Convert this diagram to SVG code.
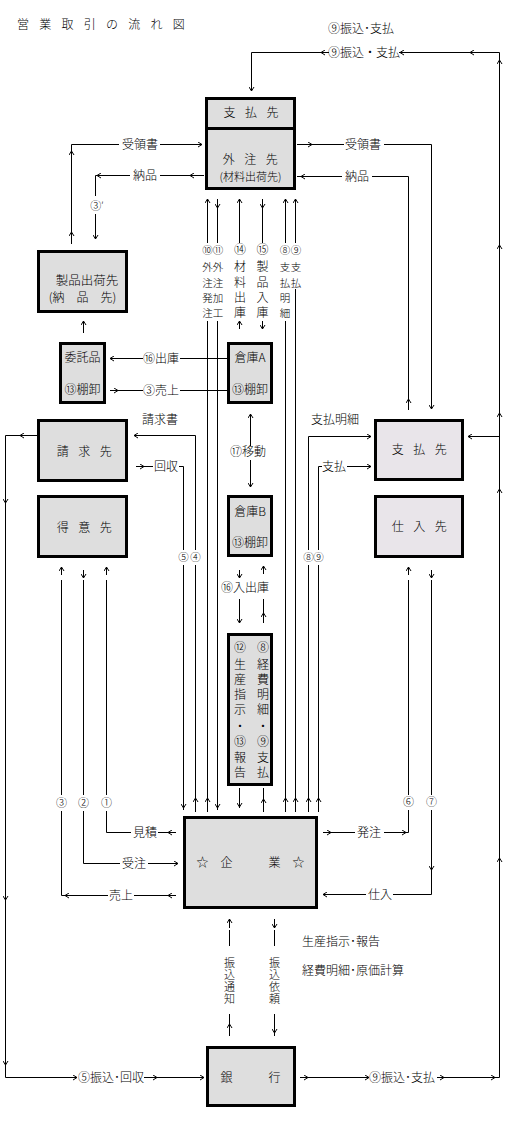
<svg xmlns="http://www.w3.org/2000/svg" width="520" height="1136" viewBox="0 0 520 1136">
<defs>
<marker id="ah" viewBox="0 0 4 6" refX="4" refY="3" markerWidth="4" markerHeight="6" markerUnits="userSpaceOnUse" orient="auto"><path d="M0,0.5 L4,3 L0,5.5" fill="none" stroke="#000" stroke-width="1"/></marker>
<style>
.bx{fill:#dedede;stroke:#000;stroke-width:3}
.bx2{fill:#e9e5ea;stroke:#000;stroke-width:3}
.c{fill:none;stroke:#000;stroke-width:1}
.a{fill:none;stroke:#000;stroke-width:1;marker-end:url(#ah)}
text{font-family:"Noto Sans CJK JP","Noto Sans CJK SC",sans-serif;font-size:12px;font-weight:300;fill:#000}
.m{text-anchor:middle}
.sp{letter-spacing:3.4px}
.s{font-size:10.5px}
.n{font-size:11px}
.v{writing-mode:vertical-rl;text-anchor:middle;font-size:11px;letter-spacing:1px}
</style>
</defs>
<rect x="0" y="0" width="520" height="1136" fill="#fff"/>
<text x="17" y="29" style="letter-spacing:3.8px">営 業 取 引 の 流 れ 図</text>
<text class="m" x="361" y="33">⑨振込･支払</text>

<g id="connectors">
<path class="c" d="M251.5 90 V52.5 H329"/>
<path class="c" d="M399 52.5 H499.5 V1077.5 H437"/>
<path class="c" d="M368 1077.5 H301"/>
<path class="c" d="M499.5 436.5 H469"/>
<path class="c" d="M37 435.5 H5.5 V1077.5 H76"/>
<path class="c" d="M144 1077.5 H204"/>
<path class="c" d="M71.5 244 V144.5 H119"/>
<path class="c" d="M160 144.5 H202"/>
<path class="c" d="M204 175.5 H160"/>
<path class="c" d="M130 175.5 H95.5 V196"/>
<path class="c" d="M95.5 214 V239"/>
<path class="c" d="M297 144.5 H344"/>
<path class="c" d="M384 144.5 H431.5 V409"/>
<path class="c" d="M297 176.5 H342"/>
<path class="c" d="M372 176.5 H408.5 V410"/>
<path class="c" d="M207.5 199 V243 M207.5 321 V812"/>
<path class="c" d="M217.5 199 V243 M217.5 321 V810"/>
<path class="c" d="M239.5 199 V243"/>
<path class="c" d="M262.5 199 V243"/>
<path class="c" d="M285.5 199 V243 M285.5 321 V812"/>
<path class="c" d="M295.5 199 V243 M295.5 289 V812"/>
<path class="c" d="M136 466.5 H153 M179 466.5 H183.5 V550 M183.5 565 V810"/>
<path class="c" d="M135 435.5 H195.5 V550 M195.5 565 V812"/>
<path class="c" d="M308.5 550 V436.5 H371 M308.5 565 V812"/>
<path class="c" d="M318.5 550 V466.5 H322 M347 466.5 H371 M318.5 565 V812"/>
<path class="c" d="M227 358.5 H180 M143 358.5 H110"/>
<path class="c" d="M110 390.5 H143 M180 390.5 H227"/>
<path class="c" d="M250.5 446 V414 M250.5 460 V487"/>
<path class="c" d="M239.5 599 V623 M263.5 599 V623"/>
<path class="c" d="M239.5 788 V808 M263.5 788 V812"/>
<path class="c" d="M106.5 580 V795 M106.5 811 V832.5 H131 M158 832.5 H176"/>
<path class="c" d="M83.5 580 V795 M83.5 811 V863.5 H120 M148 863.5 H178"/>
<path class="c" d="M61.5 580 V795 M61.5 811 V895.5 H108 M134 895.5 H176"/>
<path class="c" d="M408.5 580 V795 M408.5 810 V832.5 H384 M355 832.5 H323"/>
<path class="c" d="M431.5 580 V795 M431.5 810 V894.5 H393 M366 894.5 H323"/>
<path class="c" d="M229.5 930 V946 M229.5 1014 V1036"/>
<path class="c" d="M274.5 930 V946 M274.5 1014 V1036"/>

<path class="a" d="M329 52.5 H321"/>
<path class="a" d="M407 52.5 H400"/>
<path class="a" d="M477 52.5 H470"/>
<path class="a" d="M251.5 83 V91"/>
<path class="a" d="M499.5 68 V60"/>
<path class="a" d="M499.5 253 V245"/>
<path class="a" d="M499.5 421 V413"/>
<path class="a" d="M499.5 497 V489"/>
<path class="a" d="M499.5 866 V858"/>
<path class="a" d="M476 436.5 H468"/>
<path class="a" d="M300 1077.5 H308"/>
<path class="a" d="M361 1077.5 H369"/>
<path class="a" d="M437 1077.5 H444"/>
<path class="a" d="M487 1077.5 H495"/>
<path class="a" d="M28 435.5 H20"/>
<path class="a" d="M5.5 495 V503"/>
<path class="a" d="M5.5 892 V900"/>
<path class="a" d="M5.5 1057 V1065"/>
<path class="a" d="M69 1077.5 H77"/>
<path class="a" d="M149 1077.5 H157"/>
<path class="a" d="M196 1077.5 H204"/>
<path class="a" d="M71.5 159 V151"/>
<path class="a" d="M71.5 240 V232"/>
<path class="a" d="M194 144.5 H202"/>
<path class="a" d="M198 175.5 H190"/>
<path class="a" d="M105 175.5 H97"/>
<path class="a" d="M95.5 231 V239"/>
<path class="a" d="M304 144.5 H312"/>
<path class="a" d="M431.5 401 V409"/>
<path class="a" d="M309 176.5 H301"/>
<path class="a" d="M408.5 407 V399"/>
<path class="a" d="M207.5 207 V199"/>
<path class="a" d="M217.5 200 V208"/>
<path class="a" d="M239.5 207 V199"/>
<path class="a" d="M262.5 200 V208"/>
<path class="a" d="M285.5 207 V199"/>
<path class="a" d="M295.5 207 V199"/>
<path class="a" d="M239.5 329 V321"/>
<path class="a" d="M262.5 321 V329"/>
<path class="a" d="M207.5 806 V798"/>
<path class="a" d="M217.5 800 V808"/>
<path class="a" d="M183.5 800 V808"/>
<path class="a" d="M195.5 806 V798"/>
<path class="a" d="M285.5 806 V798"/>
<path class="a" d="M295.5 806 V798"/>
<path class="a" d="M308.5 806 V798"/>
<path class="a" d="M318.5 806 V798"/>
<path class="a" d="M239.5 799 V807"/>
<path class="a" d="M263.5 807 V799"/>
<path class="a" d="M136 466.5 H144"/>
<path class="a" d="M142 435.5 H134"/>
<path class="a" d="M363 436.5 H371"/>
<path class="a" d="M363 466.5 H371"/>
<path class="a" d="M117 358.5 H110"/>
<path class="a" d="M110 390.5 H118"/>
<path class="a" d="M83.5 333 V321"/>
<path class="a" d="M250.5 422 V414"/>
<path class="a" d="M250.5 479 V487"/>
<path class="a" d="M239.5 570 V578"/>
<path class="a" d="M263.5 574 V566"/>
<path class="a" d="M239.5 615 V623"/>
<path class="a" d="M263.5 621 V613"/>
<path class="a" d="M106.5 575 V567"/>
<path class="a" d="M83.5 570 V578"/>
<path class="a" d="M61.5 575 V567"/>
<path class="a" d="M176 832.5 H168"/>
<path class="a" d="M170 863.5 H178"/>
<path class="a" d="M73 895.5 H65"/>
<path class="a" d="M176 895.5 H168"/>
<path class="a" d="M408.5 575 V567"/>
<path class="a" d="M431.5 570 V578"/>
<path class="a" d="M323 832.5 H331"/>
<path class="a" d="M398 832.5 H406"/>
<path class="a" d="M431.5 862 V870"/>
<path class="a" d="M331 894.5 H323"/>
<path class="a" d="M229.5 928 V919"/>
<path class="a" d="M274.5 919 V928"/>
<path class="a" d="M229.5 1032 V1024"/>
<path class="a" d="M274.5 1025 V1033"/>

<text class="m" x="364" y="56.5">⑨振込・支払</text>
<text class="m" x="140" y="148.5">受領書</text>
<text class="m" x="145" y="179.5">納品</text>
<text class="m n" x="97" y="209.5">③′</text>
<text class="m" x="363" y="148.5">受領書</text>
<text class="m" x="357" y="180.5">納品</text>
<text class="m s"><tspan x="207.5" y="254">⑩</tspan><tspan x="207.5" y="271">外</tspan><tspan x="207.5" y="287">注</tspan><tspan x="207.5" y="302">発</tspan><tspan x="207.5" y="317">注</tspan></text>
<text class="m s"><tspan x="218" y="254">⑪</tspan><tspan x="218" y="271">外</tspan><tspan x="218" y="287">注</tspan><tspan x="218" y="302">加</tspan><tspan x="218" y="317">工</tspan></text>
<text class="m"><tspan x="240" y="254">⑭</tspan><tspan x="240" y="271">材</tspan><tspan x="240" y="287">料</tspan><tspan x="240" y="302">出</tspan><tspan x="240" y="317">庫</tspan></text>
<text class="m"><tspan x="262.5" y="254">⑮</tspan><tspan x="262.5" y="271">製</tspan><tspan x="262.5" y="287">品</tspan><tspan x="262.5" y="302">入</tspan><tspan x="262.5" y="317">庫</tspan></text>
<text class="m s"><tspan x="285" y="254">⑧</tspan><tspan x="285" y="271">支</tspan><tspan x="285" y="287">払</tspan><tspan x="285" y="302">明</tspan><tspan x="285" y="317">細</tspan></text>
<text class="m s"><tspan x="296" y="254">⑨</tspan><tspan x="296" y="271">支</tspan><tspan x="296" y="287">払</tspan></text>
<text class="m" x="161" y="362.5">⑯出庫</text>
<text class="m" x="161" y="394.5">③売上</text>
<text class="m" x="160" y="424">請求書</text>
<text class="m" x="166" y="470.5">回収</text>
<text class="m s" x="183.5" y="561">⑤</text>
<text class="m s" x="195.5" y="561">④</text>
<text class="m" x="248" y="456">⑰移動</text>
<text class="m" x="335" y="424">支払明細</text>
<text class="m" x="334" y="470.5">支払</text>
<text class="m s" x="308.5" y="561">⑧</text>
<text class="m s" x="318.5" y="561">⑨</text>
<text class="m" x="245" y="592">⑯入出庫</text>
<text class="m n" x="61.5" y="807">③</text>
<text class="m n" x="83.5" y="807">②</text>
<text class="m n" x="106.5" y="807">①</text>
<text class="m" x="145" y="836.5">見積</text>
<text class="m" x="134" y="867.5">受注</text>
<text class="m" x="121" y="899.5">売上</text>
<text class="m n" x="408.5" y="806">⑥</text>
<text class="m n" x="431.5" y="806">⑦</text>
<text class="m" x="369" y="836.5">発注</text>
<text class="m" x="380" y="898.5">仕入</text>
<text class="v" x="229.5" y="981">振込通知</text>
<text class="v" x="274.5" y="981">振込依頼</text>
<text x="302" y="946">生産指示･報告</text>
<text x="302" y="975">経費明細･原価計算</text>
<text class="m" x="111" y="1081.5">⑤振込･回収</text>
<text class="m" x="402" y="1081.5">⑨振込･支払</text>
</g>

<g id="shiharaisaki-top"><rect class="bx" x="206.5" y="98.5" width="88" height="30"/><text class="m sp" x="252.7" y="117">支 払 先</text></g>
<g id="gaichusaki"><rect class="bx" x="206.5" y="128.5" width="88" height="60"/><text class="m sp" x="252" y="164">外 注 先</text><text class="m n" x="250.5" y="180.5">(材料出荷先)</text></g>
<g id="seihin-shukkasaki"><rect class="bx" x="38.5" y="251.5" width="88" height="60"/><text class="m" x="87" y="285" style="font-size:12.5px">製品出荷先</text><text class="m" x="82.5" y="302">(納　品　先)</text></g>
<g id="itakuhin"><rect class="bx" x="60.5" y="343.5" width="44" height="59"/><text class="m" x="82.5" y="362">委託品</text><text class="m" x="82.5" y="394">⑬棚卸</text></g>
<g id="soko-a"><rect class="bx" x="228.5" y="343.5" width="43" height="59"/><text class="m" x="250" y="362">倉庫A</text><text class="m" x="250" y="394">⑬棚卸</text></g>
<g id="seikyusaki"><rect class="bx" x="38.5" y="420.5" width="88" height="60"/><text class="m sp" x="86" y="456">請 求 先</text></g>
<g id="tokuisaki"><rect class="bx" x="38.5" y="496.5" width="88" height="60"/><text class="m sp" x="86" y="532">得 意 先</text></g>
<g id="shiharaisaki"><rect class="bx2" x="375.5" y="420.5" width="87" height="59"/><text class="m sp" x="421" y="454">支 払 先</text></g>
<g id="shiiresaki"><rect class="bx2" x="375.5" y="496.5" width="87" height="60"/><text class="m sp" x="421" y="531">仕 入 先</text></g>
<g id="soko-b"><rect class="bx" x="228.5" y="496.5" width="43" height="59"/><text class="m" x="250" y="516">倉庫B</text><text class="m" x="250" y="547">⑬棚卸</text></g>
<g id="seisan"><rect class="bx" x="228.5" y="634.5" width="43" height="150"/>
<text class="m"><tspan x="240" y="652">⑫</tspan><tspan x="240" y="669">生</tspan><tspan x="240" y="684">産</tspan><tspan x="240" y="699">指</tspan><tspan x="240" y="714">示</tspan><tspan x="240" y="731">・</tspan><tspan x="240" y="746">⑬</tspan><tspan x="240" y="762">報</tspan><tspan x="240" y="777">告</tspan></text>
<text class="m"><tspan x="263" y="652">⑧</tspan><tspan x="263" y="669">経</tspan><tspan x="263" y="684">費</tspan><tspan x="263" y="699">明</tspan><tspan x="263" y="714">細</tspan><tspan x="263" y="731">・</tspan><tspan x="263" y="746">⑨</tspan><tspan x="263" y="762">支</tspan><tspan x="263" y="777">払</tspan></text>
</g>
<g id="kigyo"><rect class="bx" x="184.5" y="817.5" width="132" height="90"/><text class="m" x="250.5" y="867">☆　企　　　業　☆</text></g>
<g id="ginko"><rect class="bx" x="207.5" y="1047.5" width="87" height="58"/><text class="m" x="250.5" y="1082">銀　　　行</text></g>
</svg>
